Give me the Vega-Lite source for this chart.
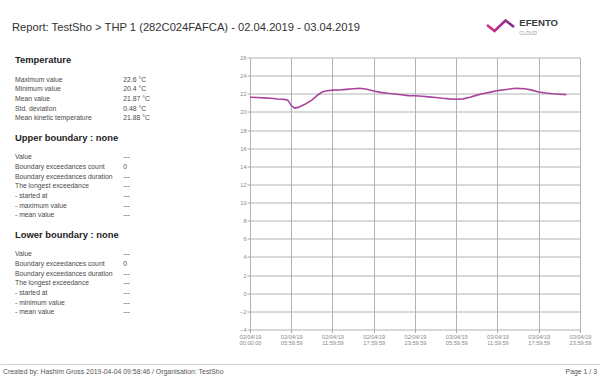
{
  "$schema": "https://vega.github.io/schema/vega-lite/v6.json",
  "padding": 0,
  "background": "white",
  "config": {
    "font": "Liberation Sans",
    "view": {"stroke": null}
  },
  "spacing": 17.5,
  "vconcat": [
    {
      "width": 531.3,
      "height": 34.7,
      "data": {"values": [
        {"part": "title", "text": "Report: TestSho > THP 1 (282C024FAFCA) - 02.04.2019 - 03.04.2019", "col": "report", "line": 1},
        {"part": "logo", "text": "", "col": "brand", "line": 1},
        {"part": "name", "text": "EFENTO", "col": "brand", "line": 0},
        {"part": "sub", "text": "CLOUD", "col": "brand", "line": 2}
      ]},
      "encoding": {
        "x": {"field": "col", "type": "nominal", "scale": {"type": "point", "domain": ["report", "brand"], "padding": 0.02365}, "axis": null},
        "y": {"field": "line", "type": "quantitative", "scale": {"domain": [-4.54, 2.4], "reverse": true, "nice": false, "zero": false}, "axis": null}
      },
      "layer": [
        {
          "transform": [{"filter": "datum.part === 'title'"}],
          "mark": {"type": "text", "align": "left", "baseline": "middle", "fontSize": 11.2, "color": "#333333"},
          "encoding": {"text": {"field": "text"}}
        },
        {
          "transform": [{"filter": "datum.part === 'logo'"}],
          "mark": {
            "type": "point",
            "shape": "M -3.23 -0.27 L -2.48 0.33 L -1.38 -0.72 L -0.53 -0.07",
            "size": 400,
            "filled": false,
            "opacity": 1,
            "strokeWidth": 2.6,
            "stroke": {"gradient": "linear", "x1": 0, "y1": 0, "x2": 1, "y2": 0, "stops": [{"offset": 0, "color": "#d8327f"}, {"offset": 1, "color": "#7b2b8d"}]}
          }
        },
        {
          "transform": [{"filter": "datum.part === 'name'"}],
          "mark": {"type": "text", "align": "left", "baseline": "middle", "fontSize": 9.6, "fontWeight": "bold", "color": "#3c3c3c"},
          "encoding": {"text": {"field": "text"}}
        },
        {
          "transform": [{"filter": "datum.part === 'sub'"}],
          "mark": {"type": "text", "align": "left", "baseline": "middle", "fontSize": 5, "color": "#9a9a9a"},
          "encoding": {"text": {"field": "text"}}
        }
      ]
    },
    {
      "bounds": "flush",
      "spacing": 111,
      "hconcat": [
        {
          "width": 138.3,
          "height": 272,
          "data": {"values": [
            {"kind": "header", "label": "Temperature", "value": "", "line": 0},
            {"kind": "row", "label": "Maximum value", "value": "22.6 °C", "line": 4},
            {"kind": "row", "label": "Minimum value", "value": "20.4 °C", "line": 6},
            {"kind": "row", "label": "Mean value", "value": "21.87 °C", "line": 8},
            {"kind": "row", "label": "Std. deviation", "value": "0.48 °C", "line": 10},
            {"kind": "row", "label": "Mean kinetic temperature", "value": "21.88 °C", "line": 12},
            {"kind": "header", "label": "Upper boundary : none", "value": "", "line": 16},
            {"kind": "row", "label": "Value", "value": "---", "line": 20},
            {"kind": "row", "label": "Boundary exceedances count", "value": "0", "line": 22},
            {"kind": "row", "label": "Boundary exceedances duration", "value": "---", "line": 24},
            {"kind": "row", "label": "The longest exceedance", "value": "---", "line": 26},
            {"kind": "row", "label": "- started at", "value": "---", "line": 28},
            {"kind": "row", "label": "- maximum value", "value": "---", "line": 30},
            {"kind": "row", "label": "- mean value", "value": "---", "line": 32},
            {"kind": "header", "label": "Lower boundary : none", "value": "", "line": 36},
            {"kind": "row", "label": "Value", "value": "---", "line": 40},
            {"kind": "row", "label": "Boundary exceedances count", "value": "0", "line": 42},
            {"kind": "row", "label": "Boundary exceedances duration", "value": "---", "line": 44},
            {"kind": "row", "label": "The longest exceedance", "value": "---", "line": 46},
            {"kind": "row", "label": "- started at", "value": "---", "line": 48},
            {"kind": "row", "label": "- minimum value", "value": "---", "line": 50},
            {"kind": "row", "label": "- mean value", "value": "---", "line": 52}
          ]},
          "encoding": {
            "y": {"field": "line", "type": "quantitative", "scale": {"domain": [-0.56, 55.52], "reverse": true, "nice": false, "zero": false}, "axis": null}
          },
          "layer": [
            {
              "transform": [{"filter": "datum.kind === 'header'"}],
              "mark": {"type": "text", "align": "left", "baseline": "middle", "fontSize": 9.4, "fontWeight": "bold", "color": "#1e1e1e"},
              "encoding": {
                "x": {"datum": "label", "type": "nominal", "scale": {"type": "point", "domain": ["label", "value"], "padding": 0.1385}, "axis": null},
                "text": {"field": "label"}
              }
            },
            {
              "transform": [{"filter": "datum.kind === 'row'"}, {"fold": ["label", "value"], "as": ["col", "text"]}],
              "mark": {"type": "text", "align": "left", "baseline": "middle", "fontSize": 6.8, "color": "#4a4a4a"},
              "encoding": {
                "x": {"field": "col", "type": "nominal", "scale": {"type": "point", "domain": ["label", "value"], "padding": 0.1385}, "axis": null},
                "text": {"field": "text"}
              }
            }
          ]
        },
        {
          "width": 330,
          "height": 272,
          "data": {"values": [
            {"time": "2019-04-02T00:00:00Z", "temperature": 21.62},
            {"time": "2019-04-02T01:00:00Z", "temperature": 21.58},
            {"time": "2019-04-02T02:00:00Z", "temperature": 21.55},
            {"time": "2019-04-02T03:00:00Z", "temperature": 21.5},
            {"time": "2019-04-02T04:00:00Z", "temperature": 21.42},
            {"time": "2019-04-02T05:00:00Z", "temperature": 21.38},
            {"time": "2019-04-02T05:30:00Z", "temperature": 21.3},
            {"time": "2019-04-02T06:00:00Z", "temperature": 20.7},
            {"time": "2019-04-02T06:30:00Z", "temperature": 20.42},
            {"time": "2019-04-02T07:00:00Z", "temperature": 20.5},
            {"time": "2019-04-02T08:00:00Z", "temperature": 20.85},
            {"time": "2019-04-02T09:00:00Z", "temperature": 21.3},
            {"time": "2019-04-02T10:00:00Z", "temperature": 21.95},
            {"time": "2019-04-02T10:30:00Z", "temperature": 22.2},
            {"time": "2019-04-02T11:00:00Z", "temperature": 22.3},
            {"time": "2019-04-02T12:00:00Z", "temperature": 22.4},
            {"time": "2019-04-02T13:00:00Z", "temperature": 22.42},
            {"time": "2019-04-02T14:00:00Z", "temperature": 22.48},
            {"time": "2019-04-02T15:00:00Z", "temperature": 22.55},
            {"time": "2019-04-02T16:00:00Z", "temperature": 22.6},
            {"time": "2019-04-02T17:00:00Z", "temperature": 22.5},
            {"time": "2019-04-02T18:00:00Z", "temperature": 22.3},
            {"time": "2019-04-02T19:00:00Z", "temperature": 22.15},
            {"time": "2019-04-02T20:00:00Z", "temperature": 22.05},
            {"time": "2019-04-02T21:00:00Z", "temperature": 21.97},
            {"time": "2019-04-02T22:00:00Z", "temperature": 21.9},
            {"time": "2019-04-02T23:00:00Z", "temperature": 21.8},
            {"time": "2019-04-03T00:00:00Z", "temperature": 21.78},
            {"time": "2019-04-03T01:00:00Z", "temperature": 21.72},
            {"time": "2019-04-03T02:00:00Z", "temperature": 21.66},
            {"time": "2019-04-03T03:00:00Z", "temperature": 21.58},
            {"time": "2019-04-03T04:00:00Z", "temperature": 21.5},
            {"time": "2019-04-03T05:00:00Z", "temperature": 21.44},
            {"time": "2019-04-03T06:00:00Z", "temperature": 21.4},
            {"time": "2019-04-03T07:00:00Z", "temperature": 21.44},
            {"time": "2019-04-03T08:00:00Z", "temperature": 21.62},
            {"time": "2019-04-03T09:00:00Z", "temperature": 21.85},
            {"time": "2019-04-03T10:00:00Z", "temperature": 22.02},
            {"time": "2019-04-03T11:00:00Z", "temperature": 22.18},
            {"time": "2019-04-03T12:00:00Z", "temperature": 22.35},
            {"time": "2019-04-03T13:00:00Z", "temperature": 22.45},
            {"time": "2019-04-03T14:00:00Z", "temperature": 22.55},
            {"time": "2019-04-03T14:42:00Z", "temperature": 22.6},
            {"time": "2019-04-03T16:00:00Z", "temperature": 22.55},
            {"time": "2019-04-03T17:00:00Z", "temperature": 22.4},
            {"time": "2019-04-03T18:00:00Z", "temperature": 22.2},
            {"time": "2019-04-03T19:00:00Z", "temperature": 22.08},
            {"time": "2019-04-03T20:00:00Z", "temperature": 22.0},
            {"time": "2019-04-03T21:00:00Z", "temperature": 21.95},
            {"time": "2019-04-03T22:00:00Z", "temperature": 21.9}
          ]},
          "mark": {"type": "line", "color": "#a8449a", "strokeWidth": 1.6},
          "encoding": {
            "x": {
              "field": "time",
              "type": "temporal",
              "scale": {
                "type": "utc",
                "domain": [
                  {"year": 2019, "month": 4, "date": 2, "hours": 0, "minutes": 0, "seconds": 0, "utc": true},
                  {"year": 2019, "month": 4, "date": 3, "hours": 23, "minutes": 59, "seconds": 59, "utc": true}
                ]
              },
              "axis": {
                "title": null,
                "values": [
                  {"year": 2019, "month": 4, "date": 2, "hours": 0, "minutes": 0, "seconds": 0, "utc": true},
                  {"year": 2019, "month": 4, "date": 2, "hours": 5, "minutes": 59, "seconds": 59, "utc": true},
                  {"year": 2019, "month": 4, "date": 2, "hours": 11, "minutes": 59, "seconds": 59, "utc": true},
                  {"year": 2019, "month": 4, "date": 2, "hours": 17, "minutes": 59, "seconds": 59, "utc": true},
                  {"year": 2019, "month": 4, "date": 2, "hours": 23, "minutes": 59, "seconds": 59, "utc": true},
                  {"year": 2019, "month": 4, "date": 3, "hours": 5, "minutes": 59, "seconds": 59, "utc": true},
                  {"year": 2019, "month": 4, "date": 3, "hours": 11, "minutes": 59, "seconds": 59, "utc": true},
                  {"year": 2019, "month": 4, "date": 3, "hours": 17, "minutes": 59, "seconds": 59, "utc": true},
                  {"year": 2019, "month": 4, "date": 3, "hours": 23, "minutes": 59, "seconds": 59, "utc": true}
                ],
                "labelExpr": "[utcFormat(datum.value, '%d/%m/%y'), utcFormat(datum.value, '%H:%M:%S')]",
                "labelFontSize": 5.6,
                "labelColor": "#8a8a8a",
                "labelLineHeight": 6.7,
                "labelPadding": 1.5,
                "labelFlush": false,
                "labelOverlap": false,
                "tickSize": 3,
                "tickColor": "#a8a8a8",
                "grid": true,
                "gridColor": "#b2b2b2",
                "domain": false
              }
            },
            "y": {
              "field": "temperature",
              "type": "quantitative",
              "scale": {"domain": [-4, 26], "nice": false, "zero": false},
              "axis": {
                "title": null,
                "values": [-4, -2, 0, 2, 4, 6, 8, 10, 12, 14, 16, 18, 20, 22, 24, 26],
                "labelFontSize": 5.6,
                "labelColor": "#8a8a8a",
                "labelPadding": 1,
                "tickSize": 3,
                "tickColor": "#a8a8a8",
                "grid": true,
                "gridColor": "#b2b2b2",
                "domain": false
              }
            }
          }
        }
      ]
    },
    {
      "width": 600,
      "height": 15,
      "data": {"values": [
        {"side": "left", "text": "Created by: Hashim Gross 2019-04-04 09:58:46 / Organisation: TestSho"},
        {"side": "right", "text": "Page 1 / 3"}
      ]},
      "encoding": {
        "x": {"field": "side", "type": "nominal", "scale": {"type": "point", "domain": ["left", "right"], "padding": 0.00505}, "axis": {"orient": "top", "labels": false, "ticks": false, "grid": false, "domain": true, "domainColor": "#d2d2d2", "title": null}},
        "text": {"field": "text"}
      },
      "layer": [
        {
          "transform": [{"filter": "datum.side === 'left'"}],
          "mark": {"type": "text", "align": "left", "baseline": "middle", "fontSize": 6.9, "color": "#555555"}
        },
        {
          "transform": [{"filter": "datum.side === 'right'"}],
          "mark": {"type": "text", "align": "right", "baseline": "middle", "fontSize": 6.9, "color": "#555555"}
        }
      ]
    }
  ]
}
